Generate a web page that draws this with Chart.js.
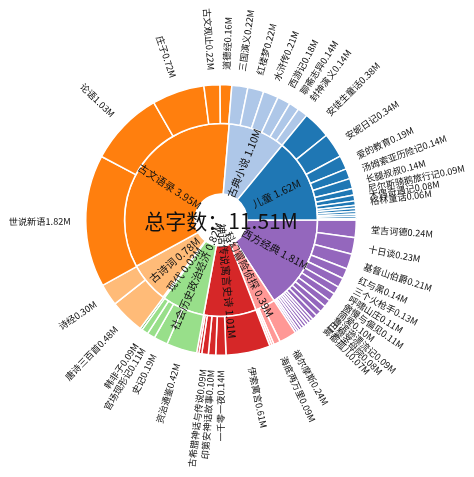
<!DOCTYPE html>
<html>
<head>
<meta charset="utf-8">
<script src="https://cdn.jsdelivr.net/npm/chart.js@4.4.0/dist/chart.umd.min.js"></script>
<style>
  html, body { margin: 0; padding: 0; background: #fff; }
</style>
</head>
<body>
<canvas id="chart" width="474" height="477"></canvas>
<script>
// categories, in the order they run counter-clockwise from 3 o'clock
const categories = ["儿童", "古典小说", "古文语录", "古诗词", "现代", "社会历史政治经济", "神话传说寓言史诗", "科幻冒险侦探", "西方经典"];
const categoryValues = [1.62, 1.10, 3.95, 0.78, 0.03, 0.82, 1.01, 0.39, 1.81];
const categoryColors = ["#1f77b4", "#aec7e8", "#ff7f0e", "#ffbb78", "#2ca02c", "#98df8a", "#d62728", "#ff9896", "#9467bd"];

// books (millions of characters), same order; bookCategory points into categories
const books = [
    "小王子", "彼得潘", "绿野仙踪", "柳林风声", "秘密花园", "爱丽丝梦游仙境", "格林童话", "木偶奇遇记", "尼尔斯骑鹅旅行记", "长腿叔叔", "汤姆索亚历险记", "爱的教育", "安妮日记", "安徒生童话",
    "封神演义", "聊斋志异", "西游记", "水浒传", "红楼梦", "三国演义",
    "道德经", "古文观止", "庄子", "论语", "世说新语",
    "诗经", "唐诗三百首",
    "朝花夕拾",
    "韩非子", "官场现形记", "史记", "资治通鉴",
    "山海经", "北欧神话", "古希腊神话与传说", "印第安神话故事", "一千零一夜", "伊索寓言",
    "时间机器", "八十天环游地球", "海底两万里", "福尔摩斯",
    "小妇人", "茶花女", "老人与海", "变形记", "局外人", "动物农场", "麦田里的守望者", "了不起的盖茨比",
    "雾都孤儿", "巴黎圣母院", "鲁滨逊漂流记", "简爱", "傲慢与偏见", "呼啸山庄", "三个火枪手", "红与黑", "基督山伯爵", "十日谈", "堂吉诃德"
];
const bookValues = [
    0.02, 0.03, 0.03, 0.04, 0.04, 0.04, 0.06, 0.08, 0.09, 0.14, 0.14, 0.19, 0.34, 0.38,
    0.14, 0.14, 0.18, 0.21, 0.22, 0.22,
    0.16, 0.22, 0.72, 1.03, 1.82,
    0.30, 0.48,
    0.03,
    0.09, 0.11, 0.19, 0.42,
    0.03, 0.04, 0.09, 0.10, 0.14, 0.61,
    0.03, 0.03, 0.09, 0.24,
    0.03, 0.03, 0.04, 0.04, 0.04, 0.04, 0.04, 0.04,
    0.07, 0.08, 0.09, 0.10, 0.11, 0.11, 0.13, 0.14, 0.21, 0.23, 0.24
];
const bookCategory = [
    0, 0, 0, 0, 0, 0, 0, 0, 0, 0, 0, 0, 0, 0,
    1, 1, 1, 1, 1, 1,
    2, 2, 2, 2, 2,
    3, 3,
    4,
    5, 5, 5, 5,
    6, 6, 6, 6, 6, 6,
    7, 7, 7, 7,
    8, 8, 8, 8, 8, 8, 8, 8,
    8, 8, 8, 8, 8, 8, 8, 8, 8, 8, 8
];

// books below this size get no label
const labelMin = 0.05;

// Chart.js draws clockwise, so reverse everything to get the counter-clockwise order
const rev = arr => arr.slice().reverse();
const outerLabels = rev(books.map((b, i) => b + bookValues[i].toFixed(2) + "M"));
const outerValues = rev(bookValues);
const outerColors = rev(bookCategory.map(c => categoryColors[c]));
const innerLabels = rev(categories.map((c, i) => c + " " + categoryValues[i].toFixed(2) + "M"));
const innerValues = rev(categoryValues);
const innerColors = rev(categoryColors);
const total = categoryValues.reduce((a, b) => a + b, 0);

const FONT = "'Noto Sans CJK SC', 'Noto Sans', sans-serif";

// write text along the radius through the middle of an arc
function drawRadial(ctx, arc, r, text, mode) {
    const a = (arc.startAngle + arc.endAngle) / 2;
    let deg = (-a * 180 / Math.PI) % 360;
    if (deg < 0) deg += 360;
    const flip = deg > 90 && deg < 270;
    const rot = flip ? deg - 180 : deg;
    ctx.save();
    ctx.translate(arc.x + r * Math.cos(a), arc.y + r * Math.sin(a));
    ctx.rotate(-rot * Math.PI / 180);
    ctx.textAlign = mode === "center" ? "center" : (flip ? "right" : "left");
    ctx.textBaseline = "middle";
    ctx.fillText(text, 0, 0);
    ctx.restore();
}

const ringLabels = {
    id: "ringLabels",
    afterDatasetsDraw(chart) {
        const ctx = chart.ctx;
        ctx.save();
        ctx.fillStyle = "#111";

        ctx.font = "9.2px " + FONT;
        chart.getDatasetMeta(0).data.forEach((arc, i) => {
            if (outerValues[i] < labelMin) return;
            drawRadial(ctx, arc, arc.outerRadius + 15, outerLabels[i], "out");
        });

        ctx.font = "10.5px " + FONT;
        chart.getDatasetMeta(1).data.forEach((arc, i) => {
            drawRadial(ctx, arc, (arc.innerRadius + arc.outerRadius) / 2, innerLabels[i], "center");
        });

        const c = chart.getDatasetMeta(1).data[0];
        ctx.font = "21px " + FONT;
        ctx.textAlign = "center";
        ctx.textBaseline = "middle";
        ctx.fillText("总字数：" + total.toFixed(2) + "M", c.x, c.y + 1);
        ctx.restore();
    }
};

const ctx = document.querySelector("#chart").getContext("2d");

const chart = new Chart(ctx, {
    type: "doughnut",
    data: {
        labels: outerLabels,
        datasets: [{
            data: outerValues,
            backgroundColor: outerColors,
            borderColor: "#ffffff",
            borderWidth: 1.5,
            weight: 39
        }, {
            data: innerValues,
            backgroundColor: innerColors,
            borderColor: "#ffffff",
            borderWidth: 1.5,
            weight: 71
        }]
    },
    options: {
        responsive: false,
        animation: false,
        devicePixelRatio: 1,
        rotation: 90,
        cutout: 26,
        layout: {
            padding: { left: 85, right: 117, top: 84, bottom: 121 }
        },
        plugins: {
            legend: { display: false },
            tooltip: { enabled: false }
        }
    },
    plugins: [ringLabels]
});
</script>
</body>
</html>
